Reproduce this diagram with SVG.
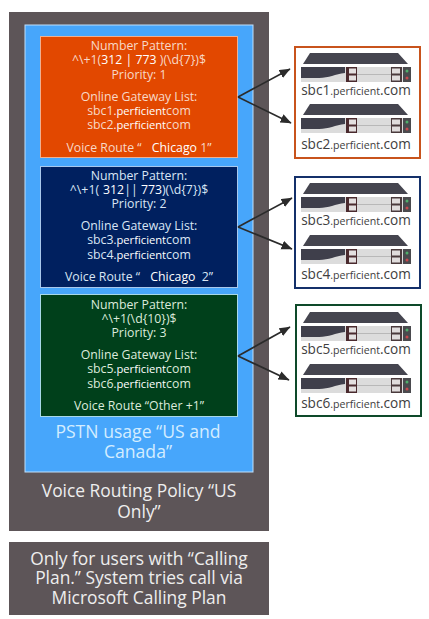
<svg xmlns="http://www.w3.org/2000/svg" xmlns:xlink="http://www.w3.org/1999/xlink" width="429" height="619" viewBox="0 0 429 619">
<style>
text{font-family:"Open Sans","Noto Sans","Liberation Sans",sans-serif;text-anchor:middle}
.r{font-size:12.3px}
.o{fill:#f8d9c8}.n{fill:#d9e6f5}.g{fill:#dcebdc}
.w{fill:#fff}
.c{font-size:11.2px}
.big{font-size:17.4px;fill:#eeeeee}
.p{font-size:17.6px;fill:#d4edff}
.sv{font-size:13.6px;fill:#404040}
.sm{font-size:10.6px}
.cn{stroke:#2b2b2b;stroke-width:1.7;fill:none;marker-end:url(#arr)}
</style>
<defs>
<marker id="arr" markerUnits="userSpaceOnUse" markerWidth="12" markerHeight="10" refX="10.5" refY="4.5" orient="auto"><path d="M0 0L11 4.5L0 9Z" fill="#2b2b2b"/></marker>
<g id="srv">
<path d="M2 11L9 0H97L107 11Z" fill="#45454f"/>
<rect x="0" y="14" width="110" height="15" fill="#dcdcdc"/>
<path d="M0 14H44V20C34 21 28 25 18 25H0Z" fill="#3f3f4b"/>
<rect x="45" y="14" width="11" height="15" fill="#4a2a2e"/>
<rect x="48" y="15.500" width="7" height="5" fill="#e4e0e0"/><rect x="48" y="22.500" width="7" height="5" fill="#e4e0e0"/>
<rect x="56" y="21" width="34" height="1" fill="#b8b8b8"/>
<rect x="90" y="14" width="11" height="15" fill="#4a3a3c"/>
<rect x="91" y="15.500" width="8" height="5" fill="#e0dcdc"/><rect x="91" y="22.500" width="8" height="5" fill="#e0dcdc"/>
<rect x="102" y="14" width="8" height="15" fill="#4a4a4e"/>
<circle cx="106" cy="18" r="1.500" fill="#4fae6a"/><circle cx="106" cy="25" r="1.500" fill="#c8484e"/>
</g>
</defs>

<g id="policy">
<rect x="9" y="12" width="260" height="519" fill="#5d5558"/>
<text class="big" x="139" y="497">Voice Routing Policy “US</text>
<text class="big" x="139" y="518">Only”</text>
</g>
<g id="usage">
<rect x="25" y="25" width="228" height="447" fill="#47a6fb" stroke="#bfe0fb" stroke-width="1"/>
<text class="p" x="138" y="438">PSTN usage “US and</text>
<text class="p" x="138" y="458">Canada”</text>
</g>

<g id="route1">
<rect x="40.500" y="36.500" width="197" height="121" fill="#e24800" stroke="#f0b090"/>
<g class="r o">
<text x="139" y="50">Number Pattern:</text>
<text x="139" y="64">^\+1(<tspan class="w">312 | 773</tspan> )(\d{7})$</text>
<text x="139" y="79">Priority: 1</text>
<text x="139" y="101">Online Gateway List:</text>
<text x="139" y="115">sbc1<tspan class="w c">.perficient</tspan>com</text>
<text x="139" y="129">sbc2<tspan class="w c">.perficient</tspan>com</text>
<text x="139" y="152">Voice Route “ <tspan class="w" dx="7">Chicago</tspan> 1”</text>
</g>
</g>
<g id="route2">
<rect x="40.500" y="166.500" width="197" height="121" fill="#00205f" stroke="#a8c8ec"/>
<g class="r n">
<text x="139" y="180">Number Pattern:</text>
<text x="139" y="194">^\+1(<tspan class="w" dx="4">312</tspan>|| <tspan class="w">773</tspan>)(\d{7})$</text>
<text x="139" y="208">Priority: 2</text>
<text x="139" y="230">Online Gateway List:</text>
<text x="139" y="244">sbc3<tspan class="w c">.perficient</tspan>com</text>
<text x="139" y="259">sbc4<tspan class="w c">.perficient</tspan>com</text>
<text x="139" y="281">Voice Route “ <tspan class="w" dx="7">Chicago</tspan> <tspan dx="3">2”</tspan></text>
</g>
</g>
<g id="route3">
<rect x="40.500" y="294.500" width="197" height="122" fill="#00401b" stroke="#a8d8e8"/>
<g class="r g">
<text x="139" y="309">Number Pattern:</text>
<text x="139" y="323">^\+1(\d{10})$</text>
<text x="139" y="337">Priority: 3</text>
<text x="139" y="359">Online Gateway List:</text>
<text x="139" y="373">sbc5<tspan class="w c">.perficient</tspan>com</text>
<text x="139" y="388">sbc6<tspan class="w c">.perficient</tspan>com</text>
<text x="139" y="410">Voice Route “Other +1”</text>
</g>
</g>
<g id="note">
<rect x="9" y="542" width="260" height="73" fill="#5d5558"/>
<text class="big" x="139" y="565">Only for users with “Calling</text>
<text class="big" x="139" y="584">Plan.” System tries call via</text>
<text class="big" x="139" y="604">Microsoft Calling Plan</text>
</g>

<g id="gw12">
<rect x="295" y="47" width="125" height="111" fill="#fff" stroke="#c8531c" stroke-width="2"/>
<use xlink:href="#srv" href="#srv" x="301" y="53"/>
<text class="sv" x="356" y="95">sbc1<tspan class="sm">.perficient</tspan>.com</text>
<use xlink:href="#srv" href="#srv" x="301" y="104"/>
<text class="sv" x="356" y="149">sbc2<tspan class="sm">.perficient</tspan>.com</text>
</g>
<g id="gw34">
<rect x="295" y="177" width="125" height="111" fill="#fff" stroke="#14306a" stroke-width="2"/>
<use xlink:href="#srv" href="#srv" x="301" y="183"/>
<text class="sv" x="356" y="225">sbc3<tspan class="sm">.perficient</tspan>.com</text>
<use xlink:href="#srv" href="#srv" x="301" y="235"/>
<text class="sv" x="356" y="279">sbc4<tspan class="sm">.perficient</tspan>.com</text>
</g>
<g id="gw56">
<rect x="296" y="305" width="125" height="111" fill="#fff" stroke="#0e4a2a" stroke-width="2"/>
<use xlink:href="#srv" href="#srv" x="301" y="312"/>
<text class="sv" x="356" y="354">sbc5<tspan class="sm">.perficient</tspan>.com</text>
<use xlink:href="#srv" href="#srv" x="301" y="364"/>
<text class="sv" x="356" y="408">sbc6<tspan class="sm">.perficient</tspan>.com</text>
</g>

<g id="connectors">
<line class="cn" x1="238" y1="97" x2="290" y2="69"/>
<line class="cn" x1="238" y1="97" x2="291" y2="123"/>
<line class="cn" x1="238" y1="227" x2="292" y2="198"/>
<line class="cn" x1="238" y1="227" x2="292" y2="249"/>
<line class="cn" x1="238" y1="356" x2="290" y2="327"/>
<line class="cn" x1="238" y1="356" x2="289" y2="380"/>
</g>
</svg>
